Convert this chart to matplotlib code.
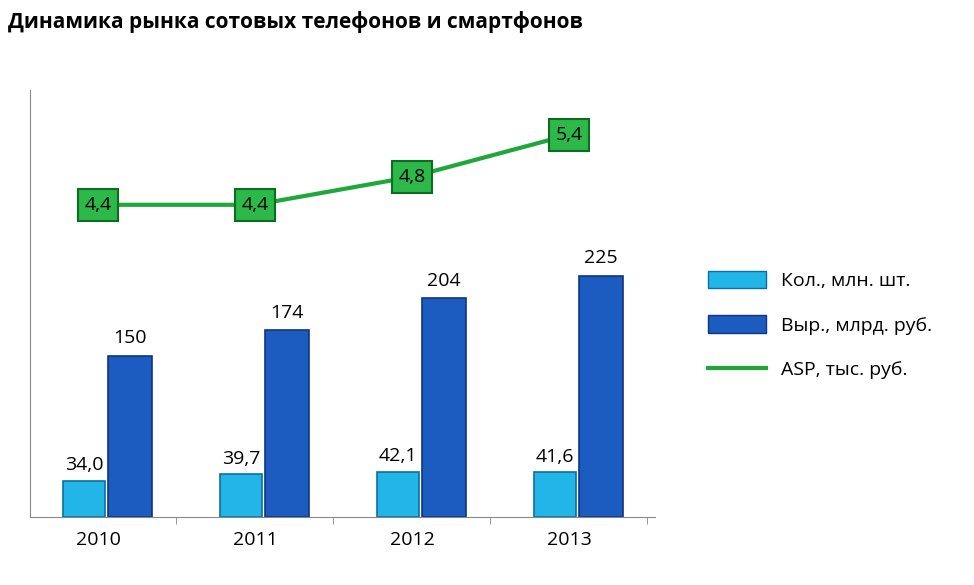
import matplotlib.pyplot as plt
from matplotlib.lines import Line2D
from matplotlib.patches import Patch
import numpy as np

years = ["2010", "2011", "2012", "2013"]
qty = [34.0, 39.7, 42.1, 41.6]
rev = [150, 174, 204, 225]
asp = [4.4, 4.4, 4.8, 5.4]
qty_labels = ["34,0", "39,7", "42,1", "41,6"]
asp_labels = ["4,4", "4,4", "4,8", "5,4"]

plt.rcParams['font.family'] = ['Open Sans', 'DejaVu Sans']
fig = plt.figure(figsize=(9.74, 5.85), dpi=100)
fig.text(8/974, 1 - 22/585, "Динамика рынка сотовых телефонов и смартфонов",
         fontsize=15, fontweight="bold", va="center", ha="left")
ax = fig.add_axes([30/974, 68/585, 625/974, 427/585])
x = np.arange(len(years))
c_light, c_dark = "#22B5E8", "#1C5CC0"
ax.bar(x - 0.089, qty, width=0.27, color=c_light, edgecolor="#0D6FA0", linewidth=1.2)
ax.bar(x + 0.204, rev, width=0.28, color=c_dark, edgecolor="#0E3580", linewidth=1.2)
for i in x:
    ax.text(i - 0.089, qty[i] + 6, qty_labels[i], ha="center", va="bottom", fontsize=14)
    ax.text(i + 0.204, rev[i] + 8, str(rev[i]), ha="center", va="bottom", fontsize=14)
ax.set_xlim(-0.433, 3.548)
ax.set_ylim(0, 398)
ax.set_xticks(x)
ax.set_xticklabels(years, fontsize=14)
ax.set_xticks(np.arange(-0.5, 4, 1), minor=True)
ax.tick_params(axis="x", which="major", length=0, pad=10)
ax.tick_params(axis="x", which="minor", length=5, color="#888888")
ax.set_yticks([])
for s in ["top", "right"]:
    ax.spines[s].set_visible(False)
ax.spines["left"].set_color("#888888")
ax.spines["bottom"].set_color("#888888")

ax2 = ax.twinx()
ax2.set_ylim(-0.06, 6.04)
ax2.set_xlim(-0.433, 3.548)
ax2.axis("off")
ax2.plot(x, asp, color="#1FA83A", linewidth=3, solid_capstyle="round")
for i in x:
    ax2.text(i, asp[i], asp_labels[i], ha="center", va="center", fontsize=14,
             bbox=dict(boxstyle="square,pad=0.35", fc="#2DB84A", ec="#0E6B22", lw=1.5))

handles = [Patch(facecolor=c_light, edgecolor="#0D6FA0"),
           Patch(facecolor=c_dark, edgecolor="#0E3580"),
           Line2D([], [], color="#1FA83A", linewidth=3)]
fig.legend(handles, ["Кол., млн. шт.", "Выр., млрд. руб.", "ASP, тыс. руб."],
           loc="center left", bbox_to_anchor=(690/974, 1 - 325/585), frameon=False,
           fontsize=14, labelspacing=1.3, handlelength=3, handleheight=1.0)
fig.savefig("out.png", dpi=100)
